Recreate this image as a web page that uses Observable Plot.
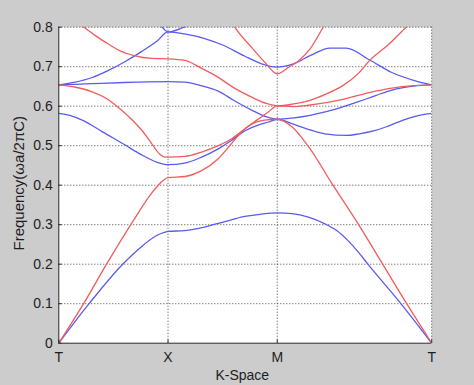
<!DOCTYPE html>
<html><head><meta charset="utf-8">
<script src="https://cdn.jsdelivr.net/npm/d3@7"></script>
<script src="https://cdn.jsdelivr.net/npm/@observablehq/plot@0.6"></script>
<style>
html,body{margin:0;padding:0;background:#cccccc;}
</style></head><body><div id="chart"></div>
<script>
// k-space path positions (T -> X -> M -> T) and their labels
const kTicks = [0, 1, 2, 3.414];
const kLabels = ["T", "X", "M", "T"];
const freqTicks = [0, 0.1, 0.2, 0.3, 0.4, 0.5, 0.6, 0.7, 0.8];

// Blue bands: [k, frequency]
const blue1 = [[0,0],[0.277,0.1],[0.585,0.2],[0.738,0.24],[0.892,0.272],[0.95,0.279],[1,0.283],[1.153,0.285],[1.336,0.294],[1.52,0.308],[1.703,0.321],[1.856,0.327],[2,0.33],[2.134,0.328],[2.286,0.319],[2.437,0.302],[2.55,0.284],[2.65,0.259],[2.75,0.228],[2.83,0.2],[3.13,0.101],[3.414,0]];
const blue2 = [[0,0.582],[0.1,0.577],[0.23,0.563],[0.4,0.535],[0.6,0.503],[0.75,0.478],[0.9,0.458],[1,0.452],[1.154,0.456],[1.307,0.471],[1.46,0.492],[1.58,0.513],[1.705,0.538],[1.83,0.553],[1.92,0.56],[2,0.567],[2.134,0.556],[2.3,0.54],[2.437,0.53],[2.633,0.526],[2.75,0.53],[2.89,0.538],[3.0,0.548],[3.1,0.559],[3.2,0.569],[3.3,0.577],[3.414,0.582]];
const blue3 = [[0,0.654],[0.3,0.657],[0.6,0.66],[1,0.662],[1.154,0.661],[1.3,0.652],[1.46,0.638],[1.6,0.615],[1.766,0.59],[1.9,0.573],[2,0.567],[2.136,0.57],[2.3,0.577],[2.45,0.586],[2.6,0.598],[2.75,0.612],[2.9,0.627],[3.05,0.641],[3.25,0.651],[3.414,0.654]];
const blue4 = [[0,0.654],[0.15,0.661],[0.3,0.672],[0.45,0.69],[0.6,0.712],[0.75,0.737],[0.9,0.765],[1,0.788],[1.15,0.783],[1.35,0.77],[1.5,0.755],[1.7,0.727],[1.85,0.708],[2,0.699],[2.134,0.706],[2.316,0.73],[2.48,0.747],[2.63,0.747],[2.846,0.717],[3.044,0.686],[3.256,0.665],[3.414,0.654]];
const blue5 = [[0.85,0.83],[0.94,0.802],[1,0.788],[1.154,0.801],[1.3,0.815]];

// Red bands: [k, frequency]
const red1 = [[0,0],[0.227,0.1],[0.437,0.2],[0.677,0.308],[0.85,0.38],[0.91,0.4],[0.96,0.413],[1,0.419],[1.154,0.422],[1.307,0.437],[1.46,0.467],[1.58,0.505],[1.67,0.534],[1.766,0.555],[1.88,0.565],[2,0.567],[2.134,0.548],[2.28,0.5],[2.51,0.4],[2.745,0.3],[2.965,0.2],[3.185,0.1],[3.414,0]];
const red2 = [[0,0.654],[0.154,0.648],[0.3,0.637],[0.45,0.617],[0.54,0.598],[0.677,0.564],[0.754,0.541],[0.831,0.513],[0.923,0.479],[0.97,0.471],[1,0.471],[1.154,0.473],[1.307,0.484],[1.46,0.5],[1.58,0.517],[1.705,0.543],[1.83,0.568],[1.92,0.586],[2,0.601],[2.136,0.599],[2.3,0.603],[2.45,0.609],[2.6,0.617],[2.75,0.628],[2.9,0.638],[3.05,0.646],[3.25,0.652],[3.414,0.654]];
const red3 = [[0,0.845],[0.1,0.823],[0.23,0.8],[0.338,0.778],[0.45,0.758],[0.54,0.743],[0.69,0.728],[0.85,0.721],[1,0.72],[1.154,0.716],[1.3,0.697],[1.46,0.673],[1.6,0.647],[1.766,0.623],[1.9,0.607],[2,0.601],[2.136,0.605],[2.3,0.615],[2.44,0.63],[2.6,0.652],[2.75,0.685],[2.846,0.716],[3.014,0.755],[3.18,0.8],[3.3,0.83],[3.414,0.86]];
const red4 = [[1.55,0.83],[1.612,0.8],[1.765,0.749],[1.887,0.711],[2,0.682],[2.1,0.698],[2.2,0.716],[2.3,0.745],[2.42,0.8],[2.5,0.84]];

const BLUE = "#5a5af2", RED = "#f05c5c";
const bands = [
  ["b1", BLUE, blue1], ["b2", BLUE, blue2], ["b3", BLUE, blue3], ["b4", BLUE, blue4], ["b5", BLUE, blue5],
  ["r1", RED, red1], ["r2", RED, red2], ["r3", RED, red3], ["r4", RED, red4]
];
const rows = bands.flatMap(([band, color, pts]) => pts.map(([k, f]) => ({band, color, k, f})));

const chart = Plot.plot({
  width: 474, height: 385,
  marginLeft: 58.3, marginRight: 42.8, marginTop: 26.7, marginBottom: 42.3,
  style: {background: "#cccccc", fontFamily: "'Liberation Sans', Arial, sans-serif", fontSize: "14px", color: "#1e1e1e"},
  x: {domain: [0, 3.414]},
  y: {domain: [0, 0.8]},
  marks: [
    Plot.frame({fill: "white", stroke: null}),
    Plot.ruleY(freqTicks.slice(1), {stroke: "#444", strokeDasharray: "1,2"}),
    Plot.ruleX(kTicks.slice(1), {stroke: "#444", strokeDasharray: "1,2"}),
    Plot.line(rows, {x: "k", y: "f", z: "band", stroke: "color", strokeWidth: 1.3, curve: "monotone-x", clip: true}),
    Plot.ruleY(freqTicks, {x1: 0, x2: 0.03, stroke: "#2a2a2a"}),
    Plot.ruleX(kTicks, {y1: 0, y2: 0.008, stroke: "#2a2a2a"}),
    Plot.ruleX([0], {stroke: "#2a2a2a"}),
    Plot.ruleY([0], {stroke: "#2a2a2a"}),
    Plot.axisY(freqTicks, {tickSize: 0, tickPadding: 6, tickFormat: d => String(d), label: null, fontSize: 14}),
    Plot.axisX(kTicks, {tickSize: 0, tickPadding: 9, tickFormat: d => kLabels[kTicks.indexOf(d)], label: null, fontSize: 14}),
    Plot.text(["K-Space"], {frameAnchor: "bottom", dy: 37, dx: -3, lineAnchor: "bottom", fontSize: 14}),
    Plot.text(["Frequency(ωa/2πC)"], {frameAnchor: "left", textAnchor: "middle", dx: -40, dy: -2, rotate: -90, fontSize: 15})
  ]
});
document.getElementById("chart").appendChild(chart);
</script>
</body></html>
